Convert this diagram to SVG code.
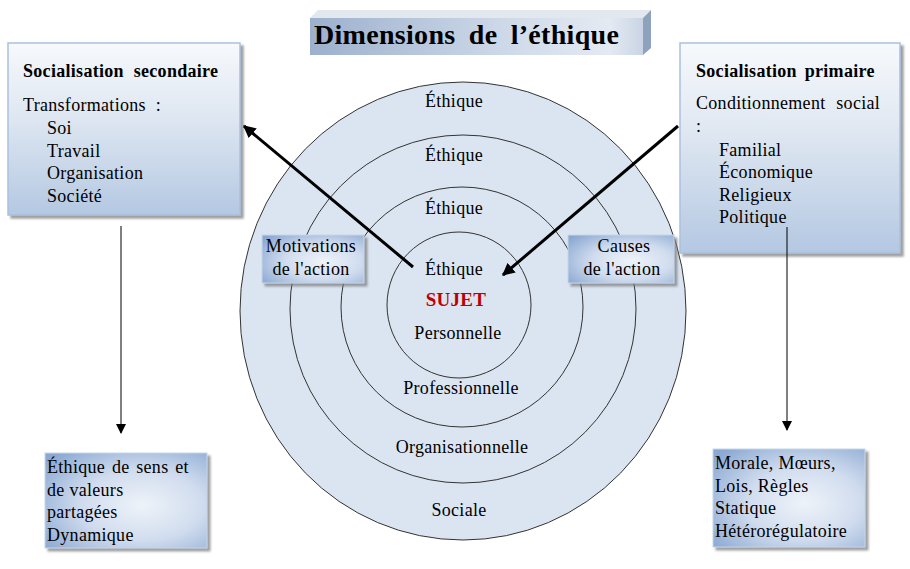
<svg xmlns="http://www.w3.org/2000/svg" width="910" height="569" viewBox="0 0 910 569">
<defs>
<style>
.t{font-family:"Liberation Serif","Times New Roman",serif;font-size:18px;fill:#000;letter-spacing:0.3px}
.b{font-weight:bold}
.c{text-anchor:middle}
.ring{fill:#dbe5f1;stroke:#333;stroke-width:1}
.bigbox{fill:url(#gBig);stroke:#a9c1de;stroke-width:1.5}
.smallbox{fill:url(#gSmall);stroke:#c5d5ea;stroke-width:1}
.thick{stroke:#000;stroke-width:3;fill:none}
.thin{stroke:#000;stroke-width:1;fill:none}
</style>
<linearGradient id="gBig" x1="0" y1="0" x2="0" y2="1">
<stop offset="0" stop-color="#f7f9fc"/>
<stop offset="0.45" stop-color="#dde6f1"/>
<stop offset="1" stop-color="#b4c8e2"/>
</linearGradient>
<radialGradient id="gSmall" cx="0.6" cy="0.55" r="0.75">
<stop offset="0" stop-color="#eef3f9"/>
<stop offset="0.5" stop-color="#d0dcee"/>
<stop offset="1" stop-color="#8aa8d2"/>
</radialGradient>
<linearGradient id="gTitle" x1="0" y1="0" x2="1" y2="0">
<stop offset="0" stop-color="#9cb0cd"/>
<stop offset="0.6" stop-color="#cfdae9"/>
<stop offset="0.9" stop-color="#e4eaf3"/>
<stop offset="1" stop-color="#c9d4e4"/>
</linearGradient>
<filter id="sh" x="-10%" y="-10%" width="130%" height="130%">
<feDropShadow dx="3" dy="3" stdDeviation="1.2" flood-color="#777" flood-opacity="0.7"/>
</filter>
<marker id="ahT" viewBox="0 0 10 10" refX="9" refY="5" markerWidth="4.2" markerHeight="4.2" orient="auto" markerUnits="strokeWidth">
<path d="M0,0 L10,5 L0,10 z" fill="#000"/>
</marker>
<marker id="ahS" viewBox="0 0 10 10" refX="9" refY="5" markerWidth="10" markerHeight="10" orient="auto" markerUnits="strokeWidth">
<path d="M0,0 L10,5 L0,10 z" fill="#000"/>
</marker>
</defs>
<rect width="910" height="569" fill="#fff"/>

<g id="title">
<polygon points="310,18 318,10 651,10 643,18" fill="#e3e8ef"/>
<polygon points="643,18 651,10 651,48 643,55" fill="#8ea2bd"/>
<rect x="310" y="18" width="333" height="37" fill="url(#gTitle)"/>
<text class="t b" x="314" y="44" style="font-size:28px;letter-spacing:0.3px;word-spacing:6px">Dimensions de l’éthique</text>
</g>

<g id="rings">
<ellipse class="ring" cx="463" cy="311" rx="223" ry="229"/>
<ellipse class="ring" cx="463" cy="309" rx="173" ry="174"/>
<ellipse class="ring" cx="462" cy="307" rx="121" ry="120"/>
<ellipse class="ring" cx="459" cy="305" rx="72" ry="73"/>
<text class="t c" x="454" y="107">Éthique</text>
<text class="t c" x="454" y="161">Éthique</text>
<text class="t c" x="454" y="214">Éthique</text>
<text class="t c" x="454" y="275">Éthique</text>
<text class="t c b" x="456" y="306" style="fill:#c00000;font-size:19px">SUJET</text>
<text class="t c" x="458" y="339">Personnelle</text>
<text class="t c" x="461" y="394">Professionnelle</text>
<text class="t c" x="462" y="453">Organisationnelle</text>
<text class="t c" x="459" y="516">Sociale</text>
</g>

<g id="socialisation-secondaire">
<rect class="bigbox" x="8" y="43" width="232" height="172" filter="url(#sh)"/>
<text class="t b" x="23" y="77" style="word-spacing:5px">Socialisation secondaire</text>
<text class="t" x="23" y="111" style="word-spacing:5px">Transformations :</text>
<text class="t" x="47" y="134">Soi</text>
<text class="t" x="47" y="157">Travail</text>
<text class="t" x="47" y="179">Organisation</text>
<text class="t" x="47" y="202">Société</text>
</g>

<g id="socialisation-primaire">
<rect class="bigbox" x="680" y="43" width="220" height="210" filter="url(#sh)"/>
<text class="t b" x="696" y="77" style="word-spacing:3px">Socialisation primaire</text>
<text class="t" x="696" y="109" style="word-spacing:6px">Conditionnement social</text>
<text class="t" x="696" y="132">:</text>
<text class="t" x="719" y="156">Familial</text>
<text class="t" x="719" y="178">Économique</text>
<text class="t" x="719" y="201">Religieux</text>
<text class="t" x="719" y="223">Politique</text>
</g>

<g id="motivations">
<rect class="smallbox" x="262" y="235" width="102" height="48" filter="url(#sh)"/>
<text class="t c" x="311" y="252">Motivations</text>
<text class="t c" x="311" y="275">de l'action</text>
</g>

<g id="causes">
<rect class="smallbox" x="568" y="235" width="106" height="48" filter="url(#sh)"/>
<text class="t c" x="624" y="252">Causes</text>
<text class="t c" x="622" y="275">de l'action</text>
</g>

<g id="ethique-sens">
<rect class="smallbox" x="45" y="453" width="162" height="95" filter="url(#sh)"/>
<text class="t" x="47" y="473" style="word-spacing:2px">Éthique de sens et</text>
<text class="t" x="47" y="496">de valeurs</text>
<text class="t" x="47" y="518">partagées</text>
<text class="t" x="47" y="541">Dynamique</text>
</g>

<g id="morale">
<rect class="smallbox" x="713" y="449" width="152" height="98" filter="url(#sh)"/>
<text class="t" x="715" y="469">Morale, Mœurs,</text>
<text class="t" x="715" y="492">Lois, Règles</text>
<text class="t" x="715" y="514">Statique</text>
<text class="t" x="715" y="537">Hétérorégulatoire</text>
</g>

<g id="connectors">
<line class="thick" x1="413" y1="267" x2="244" y2="126" marker-end="url(#ahT)"/>
<line class="thick" x1="678" y1="126" x2="503" y2="275" marker-end="url(#ahT)"/>
<line class="thin" x1="121" y1="226" x2="121" y2="433" marker-end="url(#ahS)"/>
<line class="thin" x1="787" y1="227" x2="787" y2="430" marker-end="url(#ahS)"/>
</g>
</svg>
